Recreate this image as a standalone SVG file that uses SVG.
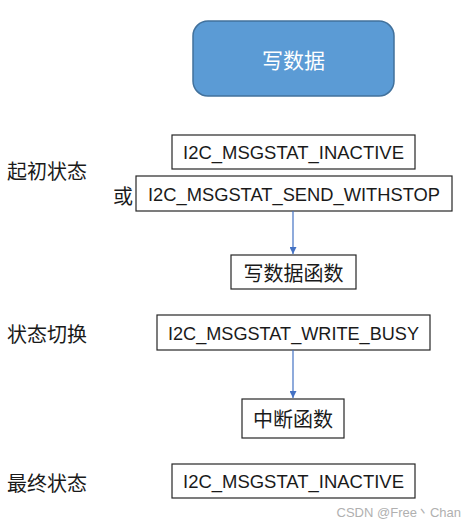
<svg xmlns="http://www.w3.org/2000/svg" width="474" height="526" viewBox="0 0 474 526">
<style>
.box{fill:#fff;stroke:#262626;stroke-width:1.2}
.en{font-family:"Liberation Sans","Noto Sans CJK SC",sans-serif;font-size:19px;fill:#1a1a1a;text-anchor:middle;dominant-baseline:central}
.cn{font-family:"Noto Sans CJK SC",sans-serif;font-size:20px;fill:#1a1a1a;dominant-baseline:central}
.cnm{font-family:"Noto Sans CJK SC",sans-serif;font-size:20px;fill:#1a1a1a;text-anchor:middle;dominant-baseline:central}
.conn{stroke:#4472C4;stroke-width:1.2;fill:none}
</style>
<defs>
<marker id="ah" viewBox="0 0 10 10" refX="10" refY="5" markerWidth="7" markerHeight="7" orient="auto" markerUnits="userSpaceOnUse">
<path d="M0,0 L10,5 L0,10 z" fill="#4472C4"/>
</marker>
</defs>
<rect width="474" height="526" fill="#fff"/>
<g id="start">
<rect x="193" y="21" width="201" height="75" rx="15" fill="#5B9BD5" stroke="#41719C" stroke-width="1.5"/>
<text x="293.5" y="59" class="cnm" style="fill:#fff;font-size:21px">写数据</text>
</g>
<g id="labels">
<text x="7" y="170" class="cn">起初状态</text>
<text x="113" y="195" class="cn">或</text>
<text x="7" y="333" class="cn">状态切换</text>
<text x="7" y="482" class="cn">最终状态</text>
</g>
<g id="init1">
<rect x="172" y="135" width="243" height="34" class="box"/>
<text x="293.5" y="152.5" class="en" textLength="221" lengthAdjust="spacingAndGlyphs">I2C_MSGSTAT_INACTIVE</text>
</g>
<g id="init2">
<rect x="136" y="176" width="316" height="35" class="box"/>
<text x="294" y="194" class="en" textLength="292" lengthAdjust="spacingAndGlyphs">I2C_MSGSTAT_SEND_WITHSTOP</text>
</g>
<g id="writefn">
<rect x="231" y="255" width="125" height="34" class="box"/>
<text x="293.5" y="272.5" class="cnm">写数据函数</text>
</g>
<g id="busy">
<rect x="157" y="315" width="273" height="35" class="box"/>
<text x="293.5" y="333" class="en" textLength="251" lengthAdjust="spacingAndGlyphs">I2C_MSGSTAT_WRITE_BUSY</text>
</g>
<g id="isr">
<rect x="242" y="399" width="102" height="39" class="box"/>
<text x="293" y="418.5" class="cnm">中断函数</text>
</g>
<g id="final">
<rect x="172" y="464" width="243" height="34" class="box"/>
<text x="293.5" y="481.5" class="en" textLength="221" lengthAdjust="spacingAndGlyphs">I2C_MSGSTAT_INACTIVE</text>
</g>
<g id="connectors">
<line x1="293" y1="211" x2="293" y2="254" class="conn" marker-end="url(#ah)"/>
<line x1="293" y1="350" x2="293" y2="398" class="conn" marker-end="url(#ah)"/>
</g>
<text x="461" y="512" font-family="Liberation Sans,sans-serif" font-size="13" fill="#b0b0b0" text-anchor="end" dominant-baseline="central">CSDN @Free丶Chan</text>
</svg>
